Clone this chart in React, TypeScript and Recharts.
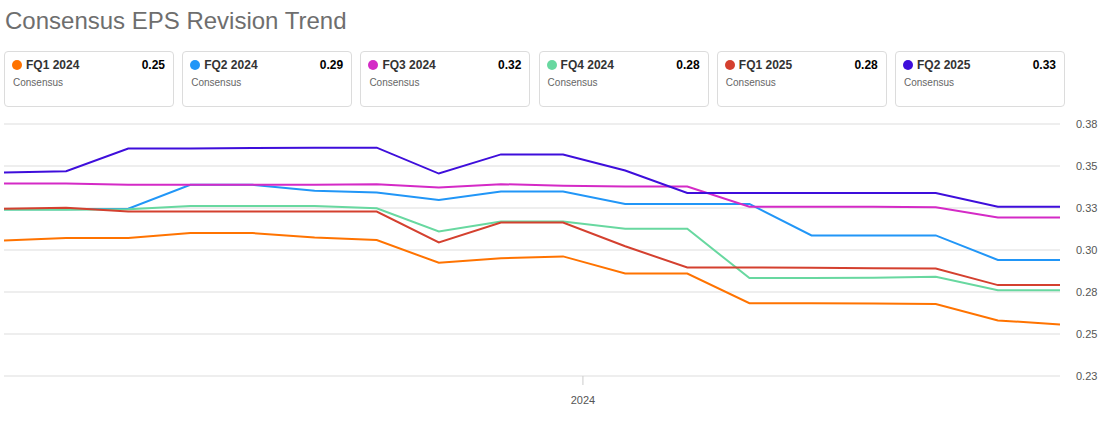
import React from "react";
import { LineChart, Line, XAxis, YAxis, CartesianGrid } from "recharts";

const pointIndex = [0, 1, 2, 3, 4, 5, 6, 7, 8, 9, 10, 11, 12, 13, 14, 15, 16, 17];

const fq1_2024 = [0.3057, 0.3071, 0.3071, 0.3101, 0.3101, 0.3074, 0.3059, 0.2924, 0.2951, 0.2962, 0.286, 0.286, 0.2683, 0.2683, 0.2681, 0.2679, 0.2581, 0.2557];
const fq2_2024 = [0.3242, 0.3242, 0.3246, 0.3388, 0.3388, 0.3353, 0.3342, 0.3298, 0.3348, 0.3348, 0.3274, 0.3274, 0.3274, 0.3087, 0.3087, 0.3087, 0.2941, 0.2941];
const fq3_2024 = [0.3396, 0.3396, 0.3388, 0.3388, 0.3388, 0.3388, 0.3392, 0.3372, 0.3392, 0.3382, 0.3378, 0.3378, 0.3258, 0.3258, 0.3258, 0.3254, 0.3193, 0.3193];
const fq4_2024 = [0.3239, 0.3239, 0.3242, 0.3262, 0.3262, 0.3262, 0.3248, 0.311, 0.3169, 0.3169, 0.3126, 0.3126, 0.2833, 0.2833, 0.2835, 0.2841, 0.276, 0.276];
const fq1_2025 = [0.3246, 0.3252, 0.3229, 0.3229, 0.3229, 0.3229, 0.3229, 0.3045, 0.3163, 0.3163, 0.3022, 0.2896, 0.2896, 0.2894, 0.2892, 0.289, 0.2791, 0.2791];
const fq2_2025 = [0.3461, 0.3469, 0.3604, 0.3604, 0.3607, 0.3609, 0.3609, 0.3455, 0.3569, 0.3569, 0.3473, 0.3339, 0.3339, 0.3339, 0.3339, 0.3339, 0.3258, 0.3258];

const seriesNames = ["FQ1 2024", "FQ2 2024", "FQ3 2024", "FQ4 2024", "FQ1 2025", "FQ2 2025"];
const seriesKeys = ["fq1_2024", "fq2_2024", "fq3_2024", "fq4_2024", "fq1_2025", "fq2_2025"];
const seriesColors = ["#ff7300", "#2196f7", "#d42ac6", "#68d8a0", "#d4402f", "#3e0edb"];
const legendValues = ["0.25", "0.29", "0.32", "0.28", "0.28", "0.33"];
const legendSubtitle = "Consensus";

const yTicks = [0.225, 0.25, 0.275, 0.3, 0.325, 0.35, 0.375];
const yTickLabels = ["0.23", "0.25", "0.28", "0.30", "0.33", "0.35", "0.38"];
const xTicks = [9.32];
const xTickLabels = ["2024"];

const seriesValues = [fq1_2024, fq2_2024, fq3_2024, fq4_2024, fq1_2025, fq2_2025];

const data = pointIndex.map((i) => {
  const row: Record<string, number> = { idx: i };
  seriesKeys.forEach((k, s) => {
    row[k] = seriesValues[s][i];
  });
  return row;
});

const FONT = '"Liberation Sans", Arial, sans-serif';

export default function App() {
  return (
    <div
      style={{
        position: "absolute",
        left: 0,
        top: 0,
        width: 1114,
        height: 422,
        background: "#fff",
        fontFamily: FONT,
        overflow: "hidden",
      }}
    >
      <div
        style={{
          position: "absolute",
          left: 5,
          top: 7,
          fontSize: 24,
          color: "#6e6e6e",
          whiteSpace: "nowrap",
          lineHeight: "normal",
        }}
      >
        Consensus EPS Revision Trend
      </div>
      {seriesNames.map((name, i) => (
        <div
          key={name}
          style={{
            position: "absolute",
            left: 4 + i * 178.2,
            top: 51,
            width: 170,
            height: 56,
            border: "1px solid #dcdcdc",
            borderRadius: 4,
            boxSizing: "border-box",
          }}
        >
          <div
            style={{
              position: "absolute",
              left: 7,
              top: 8,
              width: 10,
              height: 10,
              borderRadius: "50%",
              background: seriesColors[i],
            }}
          />
          <div
            style={{
              position: "absolute",
              left: 21,
              top: 5,
              fontSize: 12,
              fontWeight: "bold",
              color: "#333",
              lineHeight: "16px",
              whiteSpace: "nowrap",
            }}
          >
            {name}
          </div>
          <div
            style={{
              position: "absolute",
              right: 8,
              top: 5,
              fontSize: 12,
              fontWeight: "bold",
              color: "#000",
              lineHeight: "16px",
            }}
          >
            {legendValues[i]}
          </div>
          <div
            style={{
              position: "absolute",
              left: 8,
              top: 24,
              fontSize: 10,
              color: "#666",
              lineHeight: "14px",
            }}
          >
            {legendSubtitle}
          </div>
        </div>
      ))}
      <div style={{ position: "absolute", left: 0, top: 0 }}>
        <LineChart
          width={1114}
          height={422}
          data={data}
          margin={{ top: 124, right: 0, bottom: 16, left: 4 }}
        >
          <CartesianGrid vertical={false} stroke="#dddddd" strokeWidth={1} />
          <XAxis
            dataKey="idx"
            type="number"
            domain={[0, 17]}
            ticks={xTicks}
            tickFormatter={(v: number) => {
              const j = xTicks.findIndex((t) => Math.abs(t - v) < 1e-6);
              return j >= 0 ? xTickLabels[j] : "";
            }}
            axisLine={false}
            tickLine={{ stroke: "#cccccc" }}
            tickSize={9}
            tickMargin={11}
            height={30}
            tick={{ fontSize: 11, fill: "#555", fontFamily: FONT }}
          />
          <YAxis
            orientation="right"
            type="number"
            domain={[0.225, 0.375]}
            ticks={yTicks}
            tickFormatter={(v: number) => {
              const j = yTicks.findIndex((t) => Math.abs(t - v) < 1e-6);
              return j >= 0 ? yTickLabels[j] : "";
            }}
            axisLine={false}
            tickLine={false}
            tickSize={10}
            tickMargin={6}
            width={54}
            tick={{ fontSize: 11, fill: "#555", fontFamily: FONT, textAnchor: "start" }}
          />
          {seriesKeys.map((k, i) => (
            <Line
              key={k}
              type="linear"
              dataKey={k}
              stroke={seriesColors[i]}
              strokeWidth={2}
              dot={false}
              activeDot={false}
              isAnimationActive={false}
            />
          ))}
        </LineChart>
      </div>
    </div>
  );
}
